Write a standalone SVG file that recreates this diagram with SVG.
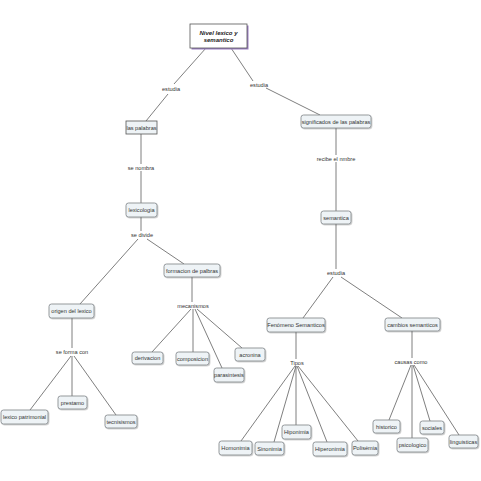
<svg xmlns="http://www.w3.org/2000/svg" width="481" height="481" viewBox="0 0 481 481">
<defs>
<filter id="sh" x="-10%" y="-20%" width="130%" height="150%"><feDropShadow dx="0.8" dy="0.8" stdDeviation="0.5" flood-color="#000" flood-opacity="0.25"/></filter>
</defs>
<style>
.n rect{fill:#eef3f6;stroke:#7d8387;stroke-width:0.8;filter:url(#sh)}
text{font-family:"Liberation Sans",Arial,sans-serif;font-size:5.6px;fill:#333;text-anchor:middle}
.c line{stroke:#707070;stroke-width:0.9}
</style>
<rect width="481" height="481" fill="#fff"/>
<g id="connectors" class="c">
<line x1="206" y1="48" x2="174" y2="84"/><line x1="168" y1="94" x2="146" y2="121"/>
<line x1="231" y1="48" x2="253" y2="81"/><line x1="266" y1="88" x2="320" y2="115"/>
<line x1="141" y1="134" x2="141" y2="164"/><line x1="141" y1="171" x2="141" y2="203"/>
<line x1="141" y1="217" x2="141" y2="231"/><line x1="138" y1="239" x2="80" y2="304"/><line x1="147" y1="239" x2="184" y2="264"/>
<line x1="192" y1="277" x2="192" y2="302"/>
<line x1="191" y1="309" x2="152" y2="352"/><line x1="193" y1="309" x2="193" y2="352"/><line x1="195" y1="309" x2="222" y2="368"/><line x1="197" y1="309" x2="242" y2="348"/>
<line x1="72" y1="318" x2="72" y2="348"/>
<line x1="71" y1="356" x2="30" y2="410"/><line x1="72" y1="356" x2="72" y2="396"/><line x1="74" y1="356" x2="116" y2="415"/>
<line x1="336" y1="128" x2="336" y2="155"/><line x1="336" y1="162" x2="336" y2="211"/>
<line x1="336" y1="224" x2="336" y2="269"/><line x1="333" y1="277" x2="303" y2="318"/><line x1="341" y1="277" x2="402" y2="318"/>
<line x1="296" y1="332" x2="296" y2="359"/>
<line x1="295" y1="366" x2="241" y2="441"/><line x1="296" y1="366" x2="274" y2="442"/><line x1="296" y1="366" x2="296" y2="425"/><line x1="297" y1="366" x2="327" y2="442"/><line x1="298" y1="366" x2="358" y2="441"/>
<line x1="412" y1="331" x2="412" y2="358"/>
<line x1="411" y1="365" x2="389" y2="420"/><line x1="412" y1="365" x2="412" y2="438"/><line x1="413" y1="365" x2="430" y2="421"/><line x1="414" y1="365" x2="459" y2="435"/>
</g>
<g id="labels">
<text x="171" y="91">estudia</text>
<text x="259" y="87">estudia</text>
<text x="141" y="170">se nombra</text>
<text x="142" y="237">se divide</text>
<text x="193" y="308">mecanismos</text>
<text x="72" y="354">se forma con</text>
<text x="336" y="161">recibe el nmbre</text>
<text x="336" y="275">estudia</text>
<text x="297" y="365">Tipos</text>
<text x="411" y="364">causas como</text>
</g>
<g id="root">
<rect x="191.5" y="25.5" width="57" height="24" fill="#9b7fc4"/>
<rect x="190" y="24" width="57" height="24" fill="#fff" stroke="#555" stroke-width="0.8"/>
<text x="218.5" y="35" style="font-weight:bold;font-style:italic;font-size:6px;fill:#222">Nivel lexico y</text>
<text x="218.5" y="42" style="font-weight:bold;font-style:italic;font-size:6px;fill:#222">semantico</text>
</g>
<g id="las-palabras"><rect x="126" y="121" width="31" height="13" fill="#eef3f6" stroke="#555" stroke-width="0.8"/><text x="141.5" y="129.5">las palabras</text></g>
<g id="lexicologia" class="n"><rect x="126" y="203" width="31" height="14" rx="2.5"/><text x="141.5" y="212">lexicologia</text></g>
<g id="formacion" class="n"><rect x="164" y="264" width="56" height="13" rx="2.5"/><text x="192" y="272.5">formacion de palbras</text></g>
<g id="origen" class="n"><rect x="49" y="304" width="45" height="14" rx="2.5"/><text x="71.5" y="313">origen del lexico</text></g>
<g id="lexico-patrimonial" class="n"><rect x="1" y="410" width="47" height="14" rx="2.5"/><text x="24.5" y="419">lexico patrimonial</text></g>
<g id="prestamo" class="n"><rect x="58" y="396" width="29" height="13" rx="2.5"/><text x="72.5" y="404.5">prestamo</text></g>
<g id="tecnisismos" class="n"><rect x="105" y="415" width="32" height="13" rx="2.5"/><text x="121" y="423.5">tecnisismos</text></g>
<g id="derivacion" class="n"><rect x="132" y="352" width="31" height="12" rx="2.5"/><text x="147.5" y="360">derivacion</text></g>
<g id="composicion" class="n"><rect x="176" y="352" width="33" height="13" rx="2.5"/><text x="192.5" y="360.5">composicion</text></g>
<g id="parasintesis" class="n"><rect x="214" y="368" width="30" height="14" rx="2.5"/><text x="229" y="377">parasintesis</text></g>
<g id="acronina" class="n"><rect x="235" y="348" width="30" height="13" rx="2.5"/><text x="250" y="356.5">acronina</text></g>
<g id="significados" class="n"><rect x="301" y="115" width="70" height="13" rx="2.5"/><text x="336" y="123.5">significados de las palabras</text></g>
<g id="semantica" class="n"><rect x="321" y="211" width="30" height="13" rx="2.5"/><text x="336" y="219.5">semantica</text></g>
<g id="fenomeno" class="n"><rect x="267" y="318" width="58" height="14" rx="2.5"/><text x="296" y="327">Fenómeno Semanticos</text></g>
<g id="cambios" class="n"><rect x="385" y="318" width="55" height="13" rx="2.5"/><text x="412.5" y="326.5">cambios semanticos</text></g>
<g id="homonimia" class="n"><rect x="219" y="441" width="33" height="14" rx="2.5"/><text x="235.5" y="450">Homonimia</text></g>
<g id="sinonimia" class="n"><rect x="255" y="442" width="29" height="13" rx="2.5"/><text x="269.5" y="450.5">Sinonimia</text></g>
<g id="hiponimia" class="n"><rect x="282" y="425" width="29" height="14" rx="2.5"/><text x="296.5" y="434">Hiponimia</text></g>
<g id="hiperonimia" class="n"><rect x="313" y="442" width="34" height="14" rx="2.5"/><text x="330" y="451">Hiperonimia</text></g>
<g id="polisemia" class="n"><rect x="352" y="441" width="26" height="14" rx="2.5"/><text x="365" y="450">Polisémia</text></g>
<g id="historico" class="n"><rect x="373" y="420" width="27" height="13" rx="2.5"/><text x="386.5" y="428.5">historico</text></g>
<g id="psicologico" class="n"><rect x="397" y="438" width="31" height="14" rx="2.5"/><text x="412.5" y="447">psicologico</text></g>
<g id="sociales" class="n"><rect x="420" y="421" width="24" height="13" rx="2.5"/><text x="432" y="429.5">sociales</text></g>
<g id="linguisticas" class="n"><rect x="449" y="435" width="29" height="13" rx="2.5"/><text x="463.5" y="443.5">linguisticas</text></g>
</svg>
